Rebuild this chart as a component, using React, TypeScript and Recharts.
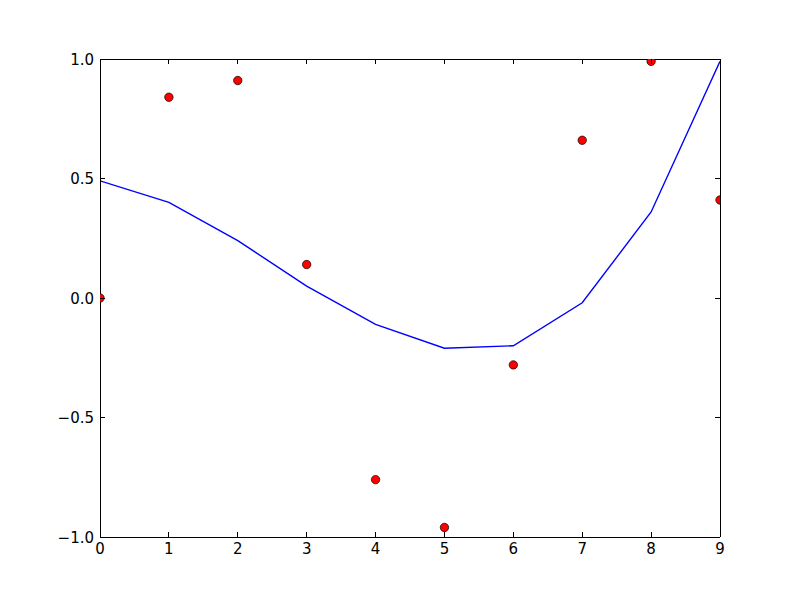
import { ComposedChart, Line, Scatter, XAxis, YAxis } from 'recharts'

const xValues = [0, 1, 2, 3, 4, 5, 6, 7, 8, 9]
const samplePoints = [0.0, 0.84, 0.91, 0.14, -0.76, -0.96, -0.28, 0.66, 0.99, 0.41]
const fitLine = [0.49, 0.4, 0.24, 0.05, -0.11, -0.21, -0.2, -0.02, 0.36, 0.99]
const xTicks = [0, 1, 2, 3, 4, 5, 6, 7, 8, 9]
const yTicks = [-1, -0.5, 0, 0.5, 1]

const FONT = '"DejaVu Sans", sans-serif'
const TICK_LEN = 5
const frameLine = { stroke: '#000', strokeWidth: 1, shapeRendering: 'crispEdges' }

const fmtY = (v: number) => (v < 0 ? '\u2212' + Math.abs(v).toFixed(1) : v.toFixed(1))

function BottomTick(props: any) {
  const { x, y, payload } = props
  return (
    <g>
      <line x1={x} y1={y} x2={x} y2={y - TICK_LEN} stroke="#000" shapeRendering="crispEdges" />
      <text x={x} y={y + 17} textAnchor="middle" fontFamily={FONT} fontSize={15} fill="#000">
        {payload.value}
      </text>
    </g>
  )
}

function LeftTick(props: any) {
  const { x, y, payload } = props
  return (
    <g>
      <line x1={x} y1={y} x2={x + TICK_LEN} y2={y} stroke="#000" shapeRendering="crispEdges" />
      <text x={x - 6} y={y + 5.5} textAnchor="end" fontFamily={FONT} fontSize={15} fill="#000">
        {fmtY(payload.value)}
      </text>
    </g>
  )
}

function TopTick(props: any) {
  const { x, y } = props
  return <line x1={x} y1={y} x2={x} y2={y + TICK_LEN} stroke="#000" shapeRendering="crispEdges" />
}

function RightTick(props: any) {
  const { x, y } = props
  return <line x1={x} y1={y} x2={x - TICK_LEN} y2={y} stroke="#000" shapeRendering="crispEdges" />
}

function Dot(props: any) {
  const { cx, cy } = props
  return <circle cx={cx} cy={cy} r={4.2} fill="#ff0000" stroke="#000" strokeWidth={0.7} />
}

export default function App() {
  const data = xValues.map((x, i) => ({ x, fit: fitLine[i], pts: samplePoints[i] }))

  return (
    <div style={{ position: 'absolute', left: 0, top: 0, background: '#fff' }}>
      <ComposedChart width={800} height={597} data={data} margin={{ top: 58, right: 79, bottom: 59, left: 0 }}>
        <XAxis
          dataKey="x"
          type="number"
          domain={[0, 9]}
          ticks={xTicks}
          allowDataOverflow
          height={1}
          tickSize={0}
          tickMargin={0}
          tickLine={false}
          axisLine={frameLine}
          tick={<BottomTick />}
          interval={0}
        />
        <XAxis
          xAxisId="top"
          orientation="top"
          dataKey="x"
          type="number"
          domain={[0, 9]}
          ticks={xTicks}
          allowDataOverflow
          height={1}
          tickSize={0}
          tickMargin={0}
          tickLine={false}
          axisLine={frameLine}
          tick={<TopTick />}
          interval={0}
        />
        <YAxis
          type="number"
          domain={[-1, 1]}
          ticks={yTicks}
          allowDataOverflow
          width={100}
          tickSize={0}
          tickMargin={0}
          tickLine={false}
          axisLine={frameLine}
          tick={<LeftTick />}
          interval={0}
        />
        <YAxis
          yAxisId="right"
          orientation="right"
          type="number"
          domain={[-1, 1]}
          ticks={yTicks}
          allowDataOverflow
          width={1}
          tickSize={0}
          tickMargin={0}
          tickLine={false}
          axisLine={frameLine}
          tick={<RightTick />}
          interval={0}
        />
        <Line
          type="linear"
          dataKey="fit"
          stroke="#0000ff"
          strokeWidth={1.4}
          dot={false}
          activeDot={false}
          isAnimationActive={false}
        />
        <Scatter dataKey="pts" shape={<Dot />} isAnimationActive={false} />
      </ComposedChart>
    </div>
  )
}
